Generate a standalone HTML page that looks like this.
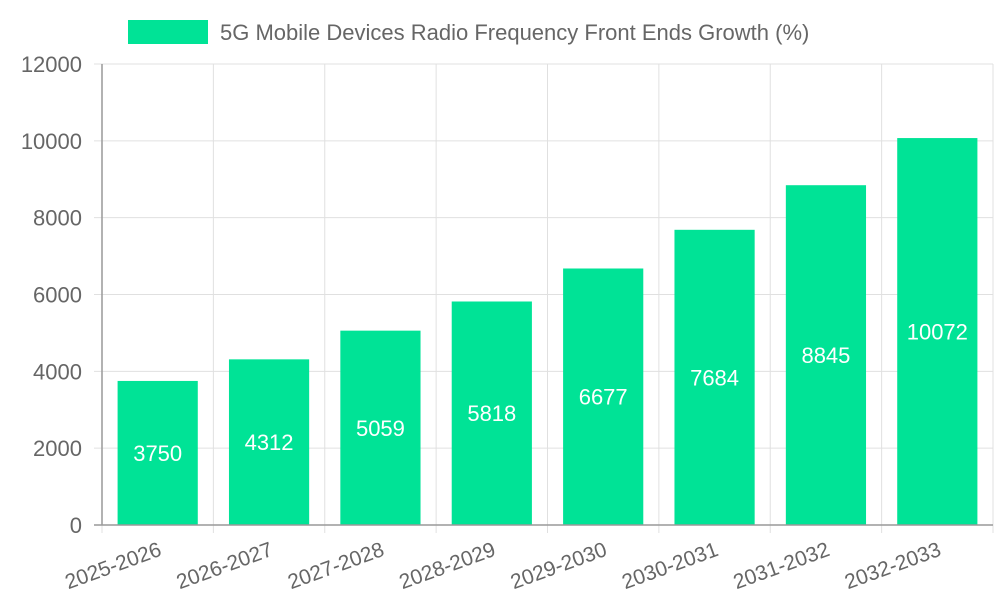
<!DOCTYPE html>
<html><head><meta charset="utf-8"><style>
html,body{margin:0;padding:0;background:#fff;}
svg{display:block;font-family:"Liberation Sans",sans-serif;}
</style></head><body>
<svg id="chart" width="1000" height="600" viewBox="0 0 1000 600" xmlns="http://www.w3.org/2000/svg">
<g id="legend">
<rect x="128" y="20" width="80" height="24" fill="#00E396"/>
<text x="220" y="40" font-size="22" fill="#666">5G Mobile Devices Radio Frequency Front Ends Growth (%)</text>
</g>
<g id="grid"></g>
<g id="bars"></g>
<g id="axes"></g>
</svg>
<script>
const categories = ["2025-2026","2026-2027","2027-2028","2028-2029","2029-2030","2030-2031","2031-2032","2032-2033"];
const values = [3750,4312,5059,5818,6677,7684,8845,10072];
const yTicks = [0,2000,4000,6000,8000,10000,12000];
const NS="http://www.w3.org/2000/svg";
const L=102,R=993,T=64,B=525,yMax=12000;
const band=(R-L)/categories.length;
const y=v=>B-(v/yMax)*(B-T);
const x=i=>L+i*band;
function mk(tag,attrs,parent,text){const e=document.createElementNS(NS,tag);for(const k in attrs)e.setAttribute(k,attrs[k]);if(text!==undefined)e.textContent=text;parent.appendChild(e);return e;}
const grid=document.getElementById('grid'),bars=document.getElementById('bars'),axes=document.getElementById('axes');
yTicks.forEach(t=>{
 const g=mk('line',{x1:L-8,x2:R,y1:y(t),y2:y(t),stroke:'#e0e0e0','stroke-width':1},grid);
 
 
 const lb=mk('text',{x:L-20,y:y(t)+8,'text-anchor':'end','font-size':22,fill:'#666'},axes,String(t));
 
 
});
for(let i=0;i<=categories.length;i++){
 const g=mk('line',{x1:x(i),x2:x(i),y1:T,y2:B+8,stroke:'#e0e0e0','stroke-width':1},grid);
 
 
}
categories.forEach((c,i)=>{
 const bw=band*0.72,cx=x(i)+band/2;
 const r=mk('rect',{x:cx-bw/2,y:y(values[i]),width:bw,height:B-y(values[i]),fill:'#00E396'},bars);
 
 
 const v=mk('text',{x:cx,y:(y(values[i])+B)/2+8,'text-anchor':'middle','font-size':22,fill:'#fff'},bars,String(values[i]));
 
 
 const lb=mk('text',{x:cx+5,y:B+30,'text-anchor':'end','font-size':21,fill:'#666',transform:`rotate(-20 ${cx+5} ${B+30})`},axes,c);
 
 
});
const ya=mk('line',{x1:L,x2:L,y1:T,y2:B,stroke:'#999','stroke-width':1.5},axes);


const xa=mk('line',{x1:L-8,x2:R,y1:B,y2:B,stroke:'#999','stroke-width':1.5},axes);


</script>
</body></html>
